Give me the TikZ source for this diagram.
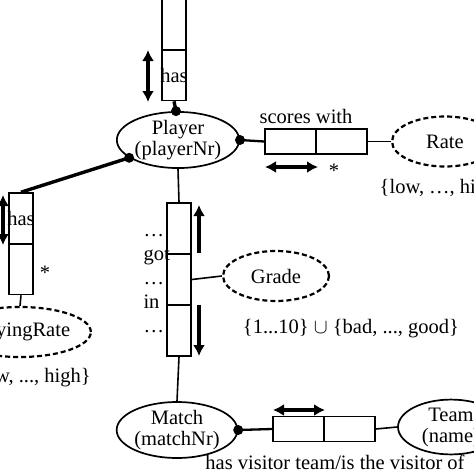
\documentclass[tikz,border=0pt]{standalone}
\usepackage{fontspec}
\setmainfont{Liberation Serif}
\usetikzlibrary{shapes.geometric,arrows.meta}

\tikzset{
  objet/.style={draw, ellipse, line width=1.7pt, minimum width=106pt, minimum height=50pt,
    inner sep=0pt, align=center, font=\fontsize{20.5}{21}\selectfont},
  valeur/.style={objet, dash pattern=on 5pt off 3pt, line width=2.2pt},
  rolev/.style={draw, line width=1.6pt, minimum width=24pt, minimum height=51pt, inner sep=0pt},
  roleh/.style={draw, line width=1.6pt, minimum width=51pt, minimum height=25pt, inner sep=0pt},
  point/.style={circle, fill, inner sep=0pt, minimum size=10pt},
  fin/.style={line width=1.6pt},
  moyen/.style={line width=2.3pt},
  epais/.style={line width=3.4pt},
  fleche/.style={line width=3.2pt, {Latex[length=11pt,width=12pt]}-{Latex[length=11pt,width=12pt]}},
  demi/.style={line width=3.2pt, -{Latex[length=11pt,width=12pt]}}
}

\begin{document}
\begin{tikzpicture}[x=1pt, y=-1pt, every node/.style={font=\fontsize{20.5}{24}\selectfont}]
    \useasboundingbox (0,0) rectangle (474,474);
    \clip (0,0) rectangle (474,474);

    % Objets
    \node[objet] (player) at (178,140) {Player\\(playerNr)};
    \node[objet] (match) at (177,430) {Match\\(matchNr)};
    \node[objet] (team) at (451,427) {Team\\(name)};

    % Valeurs
    \node[valeur] (rate) at (445,141.5) {Rate};
    \node[valeur] (grade) at (276,276) {Grade};
    \node[valeur] (playingrate) at (20,332) {PlayingRate};

    % Rôle vertical en haut
    \node[rolev] (hautB) at (174,24.5) {};
    \node[rolev] (hautA) at (174,75) {\makebox[0pt]{has}};

    % Rôle vertical à gauche
    \node[rolev] (gaucheA) at (21,218.5) {\makebox[0pt]{has}};
    \node[rolev] (gaucheB) at (21,269) {};

    % Rôle ternaire au milieu
    \node[rolev] (milA) at (179,228.5) {};
    \node[rolev] (milB) at (179,279.5) {};
    \node[rolev] (milC) at (179,330.5) {};

    % Rôle horizontal à droite
    \node[roleh] (scoreA) at (290.5,141.5) {};
    \node[roleh] (scoreB) at (341.5,141.5) {};

    % Rôle horizontal en bas
    \node[roleh] (visitA) at (298.5,429) {};
    \node[roleh] (visitB) at (349.5,429) {};

    % Liaisons
    \draw[epais] (hautA.south) -- (player.94);
    \draw[epais] (player.200) -- (gaucheA.north);
    \draw[moyen] (player.east) -- (scoreA.west);
    \draw[fin] (scoreB.east) -- (rate.west);
    \draw[fin] (player.south) -- (milA.north);
    \draw[fin] (gaucheB.south) -- (playingrate.north);
    \draw[fin] (milB.east) -- (grade.west);
    \draw[fin] (milC.south) -- (match.north);
    \draw[moyen] (match.east) -- (visitA.west);
    \draw[fin] (visitB.east) -- (team.west);

    % Points
    \node[point] (pHaut) at (player.94) {};
    \node[point] (pGauche) at (player.200) {};
    \node[point] (pDroite) at (player.east) {};
    \node[point] (pMatch) at (match.east) {};

    % Flèches
    \draw[fleche] (148,50) -- (148,102);
    \draw[fleche] (3,195) -- (3,245);
    \draw[fleche] (265,167) -- (318,167);
    \draw[fleche] (273,410) -- (325,410);
    \draw[demi] (199,253) -- (199,205);
    \draw[demi] (199,305) -- (199,356);

    % Textes
    \node[anchor=base] (lblScore) at (306,123) {scores with};
    \node (etoileS) at (334,171) {*};
    \node (etoileG) at (45,273) {*};
    \node[anchor=base west, align=left] (lblMil) at (140,332) {…\\got\\…\\in\\…};
    \node[anchor=base] (domRate) at (443,193) {\{low, …, high\}};
    \node[anchor=base] (domPR) at (30,382) {\{low, ..., high\}};
    \node[anchor=base] (domGrade) at (351,333) {\{1...10\} $\cup$ \{bad, ..., good\}};
    \node[anchor=base] (lblVisit) at (335,469) {has visitor team/is the visitor of};
\end{tikzpicture}
\end{document}
